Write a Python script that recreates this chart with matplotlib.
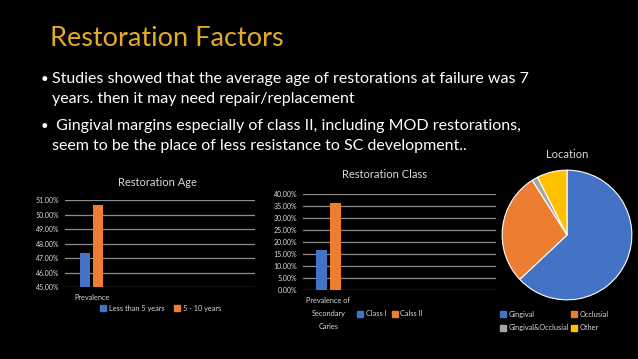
import matplotlib
matplotlib.use("Agg")
import matplotlib.pyplot as plt
from matplotlib.patches import Patch

# ---- data ----
age_cats = ["Prevalence"]
age_series = ["Less than 5 years", "5 - 10 years"]
age_vals = [0.4733, 0.5065]

class_cats = ["Prevalence of\nSecondary\nCaries"]
class_series = ["Class I", "Calss II"]
class_vals = [0.167, 0.361]

loc_labels = ["Gingival", "Occlusial", "Gingival&Occlusial", "Other"]
loc_vals = [63.0, 28.0, 1.5, 7.5]

blue, orange, grey, yellow = "#4472C4", "#ED7D31", "#A5A5A5", "#FFC000"
txt = "#D9D9D9"
grid_c = "#8C8C8C"

plt.rcParams["font.family"] = ["Lato", "DejaVu Sans"]

W, H = 638, 359
fig = plt.figure(figsize=(W / 100, H / 100), dpi=100, facecolor="black")


def box(x0, y0, x1, y1):
    # pixel box (top-left origin) -> figure fraction rect
    return [x0 / W, 1 - y1 / H, (x1 - x0) / W, (y1 - y0) / H]


def px(x, y):
    return x / W, 1 - y / H


# title and bullets
fig.text(*px(50, 46), "Restoration Factors", color="#E3AC22", fontsize=19.5,
         va="baseline")
body = 11.55
fig.text(*px(41, 83), "•", color="white", fontsize=9.5, va="baseline")
fig.text(*px(51.5, 83), "Studies showed that the average age of restorations at failure was 7",
         color="white", fontsize=body, va="baseline")
fig.text(*px(51.5, 103), "years. then it may need repair/replacement",
         color="white", fontsize=body, va="baseline")
fig.text(*px(41, 130), "•", color="white", fontsize=9.5, va="baseline")
fig.text(*px(51.5, 130), " Gingival margins especially of class II, including MOD restorations,",
         color="white", fontsize=body, va="baseline")
fig.text(*px(51.5, 150), "seem to be the place of less resistance to SC development..",
         color="white", fontsize=body, va="baseline")


def bar_chart(rect, cats, series, vals, colors, ylim, ticks, xlim, bw, off, title, title_xy,
              leg_xy, colsp):
    ax = fig.add_axes(rect)
    ax.set_facecolor("black")
    for i, (s, v, c) in enumerate(zip(series, vals, colors)):
        ax.bar([(i - 0.5) * 2 * off], [v], width=bw, color=c, label=s, zorder=3)
    ax.set_ylim(*ylim)
    ax.set_xlim(*xlim)
    ax.set_yticks(ticks)
    ax.set_yticklabels(["%.2f%%" % (t * 100) for t in ticks])
    ax.set_xticks([0])
    ax.set_xticklabels(cats, linespacing=2.0)
    ax.tick_params(axis="y", length=0, pad=4, labelsize=5.0, labelcolor=txt)
    ax.tick_params(axis="x", length=0, pad=5, labelsize=5.3, labelcolor=txt)
    for sp in ax.spines.values():
        sp.set_visible(False)
    ax.grid(axis="y", color=grid_c, linewidth=0.9, zorder=0)
    fig.text(*px(*title_xy), title, color=txt, fontsize=8, ha="center", va="center")
    handles = [Patch(color=c) for c in colors]
    fig.legend(handles, series, loc="center left", bbox_to_anchor=px(*leg_xy), ncol=2,
               frameon=False, fontsize=5.3, labelcolor=txt, handlelength=0.8,
               handleheight=0.8, handletextpad=0.4, columnspacing=colsp, borderpad=0,
               borderaxespad=0)
    return ax


bar_chart(box(65, 200, 255, 287), age_cats, age_series, age_vals, [blue, orange],
          (0.45, 0.51), [0.45 + 0.01 * k for k in range(7)], (-0.267, 1.633), 0.10, 0.066,
          "Restoration Age", (157, 183), (100, 308), 1.35)

bar_chart(box(303, 194, 496, 290), class_cats, class_series, class_vals, [blue, orange],
          (0.0, 0.40), [0.05 * k for k in range(9)], (-0.254, 1.676), 0.108, 0.071,
          "Restoration Class", (384, 175), (357, 314), 0.7)

# pie
pax = fig.add_axes(box(501.5, 169.5, 632.5, 300.5))
pax.pie(loc_vals, colors=[blue, orange, grey, yellow], startangle=90, counterclock=False,
        wedgeprops=dict(edgecolor="white", linewidth=0.8))
pax.set_xlim(-1.01, 1.01)
pax.set_ylim(-1.01, 1.01)
pax.set_aspect("equal")
fig.text(*px(567, 155), "Location", color=txt, fontsize=8, ha="center", va="center")
# legend fills column-wise, so reorder to get rows Gingival/Occlusial, G&O/Other
order = [0, 2, 1, 3]
pie_cols = [blue, orange, grey, yellow]
fig.legend([Patch(color=pie_cols[i]) for i in order], [loc_labels[i] for i in order],
           loc="center left", bbox_to_anchor=px(500, 321), ncol=2, frameon=False,
           fontsize=5.3, labelcolor=txt, handlelength=0.8, handleheight=0.8,
           handletextpad=0.4, columnspacing=0.2, borderpad=0, borderaxespad=0,
           labelspacing=0.9)

fig.savefig("out.png", dpi=100, facecolor="black")
